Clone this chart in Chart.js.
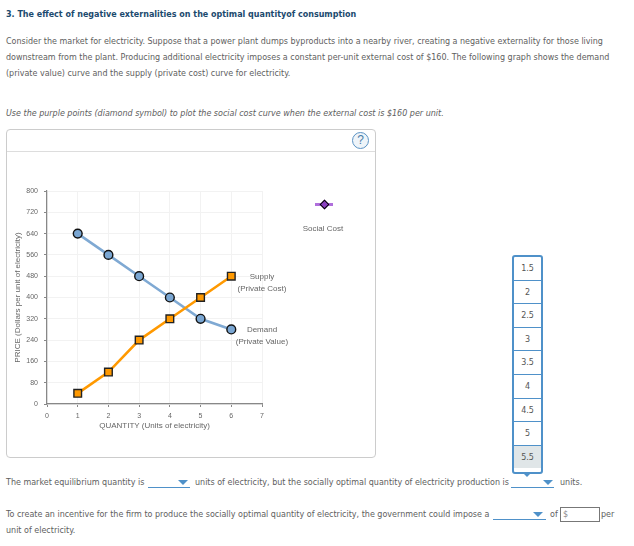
<!DOCTYPE html>
<html>
<head>
<meta charset="utf-8">
<script src="https://cdn.jsdelivr.net/npm/chart.js@4"></script>
<style>
html, body { margin: 0; padding: 0; background: #fff; }
body { width: 634px; height: 546px; position: relative; overflow: hidden; font-family: "DejaVu Sans", sans-serif; font-size: 8px; color: #5e5e5e; }
.t { position: absolute; white-space: nowrap; line-height: 10px; }
.panel { position: absolute; left: 6px; top: 129px; width: 368px; height: 327px; border: 1px solid #ccc; border-radius: 4px; box-sizing: content-box; }
.head { position: absolute; left: 0; right: 0; top: 21px; border-top: 1px solid #ddd; }
#c { position: absolute; left: 0; top: 152px; }
.lab { position: absolute; font-family: "Liberation Sans", sans-serif; font-size: 8px; line-height: 11.5px; text-align: center; color: #666; width: 80px; }
.help { position: absolute; left: 352px; top: 132px; width: 15px; height: 15px; border: 1.3px solid #5b93c4; border-radius: 50%; background: #eef4f9; color: #4a7ca8; font: 12px/15px "Liberation Sans", sans-serif; text-align: center; }
.key { position: absolute; left: 315px; top: 203px; width: 18px; height: 3px; background: #b06fdc; }
.key i { position: absolute; left: 6px; top: -2px; width: 5px; height: 5px; background: #8a3fc0; border: 1.3px solid #000; transform: rotate(45deg); }
.box { position: absolute; left: 512px; top: 255px; width: 27px; height: 215px; border: 2px solid #4f91c9; border-radius: 3px; background: #fff; }
.box div { height: 22.6px; line-height: 24px; border-bottom: 1px solid #4f91c9; text-align: center; font-size: 8px; color: #555; }
.box div:last-child { border-bottom: 0; background: #e0e6e8; }
.tri { position: absolute; width: 0; height: 0; border-left: 5px solid transparent; border-right: 5px solid transparent; border-top: 5px solid #4f91c9; }
.dd { position: absolute; border-bottom: 1px solid #4f91c9; height: 1px; }
.inp { position: absolute; left: 560px; top: 507px; width: 36px; height: 13px; border: 1px solid #777; font-size: 8px; line-height: 13px; color: #888; padding-left: 2px; box-sizing: content-box; }
</style>
</head>
<body>
<div class="t" style="left:6px;top:10px;font-weight:bold;color:#1c4a6e;">3. The effect of negative externalities on the optimal quantityof consumption</div>
<div class="t" style="left:6px;top:37px;">Consider the market for electricity. Suppose that a power plant dumps byproducts into a nearby river, creating a negative externality for those living</div>
<div class="t" style="left:6px;top:53px;">downstream from the plant. Producing additional electricity imposes a constant per-unit external cost of $160. The following graph shows the demand</div>
<div class="t" style="left:6px;top:69px;">(private value) curve and the supply (private cost) curve for electricity.</div>
<div class="t" style="left:6px;top:109px;font-style:italic;">Use the purple points (diamond symbol) to plot the social cost curve when the external cost is $160 per unit.</div>

<div class="panel"><div class="head"></div></div>
<canvas id="c" width="374" height="304" style="width:374px;height:304px;"></canvas>
<div class="help">?</div>
<div class="key"><i></i></div>
<div class="lab" style="left:283px;top:223px;">Social Cost</div>
<div class="lab" style="left:222px;top:271px;">Supply<br>(Private Cost)</div>
<div class="lab" style="left:222px;top:324px;">Demand<br>(Private Value)</div>

<div class="box" id="box"></div>
<div class="tri" style="left:522px;top:472px;"></div>

<div class="t" style="left:6px;top:478px;">The market equilibrium quantity is</div>
<div class="dd" style="left:148px;top:486px;width:42px;"></div>
<div class="tri" style="left:178px;top:480px;"></div>
<div class="t" style="left:195px;top:478px;">units of electricity, but the socially optimal quantity of electricity production is</div>
<div class="dd" style="left:511px;top:486px;width:43px;"></div>
<div class="tri" style="left:543px;top:480px;"></div>
<div class="t" style="left:560px;top:478px;">units.</div>
<div class="t" style="left:6px;top:510px;">To create an incentive for the firm to produce the socially optimal quantity of electricity, the government could impose a</div>
<div class="dd" style="left:493px;top:518px;width:53px;"></div>
<div class="tri" style="left:533px;top:512px;"></div>
<div class="t" style="left:550px;top:510px;">of</div>
<div class="inp">$</div>
<div class="t" style="left:601px;top:510px;">per</div>
<div class="t" style="left:6px;top:526px;">unit of electricity.</div>

<script>
// values
const quantities = [1, 2, 3, 4, 5, 6];
const demandValues = [640, 560, 480, 400, 320, 280];
const supplyValues = [40, 120, 240, 320, 400, 480];
const xTicks = [0, 1, 2, 3, 4, 5, 6, 7];
const yTicks = [0, 80, 160, 240, 320, 400, 480, 560, 640, 720, 800];
const answerChoices = ['1.5', '2', '2.5', '3', '3.5', '4', '4.5', '5', '5.5'];

document.getElementById('box').innerHTML = answerChoices.map(a => '<div>' + a + '</div>').join('');

function toPoints(values) {
    return quantities.map((q, i) => ({ x: q, y: values[i] }));
}

const tickFont = { family: '"Liberation Sans", sans-serif', size: 7 };
const titleFont = { family: '"Liberation Sans", sans-serif', size: 8 };

new Chart(document.getElementById('c').getContext('2d'), {
    type: 'scatter',
    data: {
        datasets: [{
            label: 'Supply (Private Cost)',
            data: toPoints(supplyValues),
            showLine: true,
            borderColor: '#ff9900',
            borderWidth: 2.6,
            pointStyle: 'rect',
            pointRadius: 5.4,
            pointBackgroundColor: '#ff9900',
            pointBorderColor: '#222',
            pointBorderWidth: 1.4
        }, {
            label: 'Demand (Private Value)',
            data: toPoints(demandValues),
            showLine: true,
            borderColor: '#7fa9d3',
            borderWidth: 2.6,
            pointStyle: 'circle',
            pointRadius: 4.4,
            pointBackgroundColor: '#7aa6d2',
            pointBorderColor: '#111',
            pointBorderWidth: 1.4
        }]
    },
    options: {
        responsive: false,
        animation: false,
        layout: { padding: { top: 39, right: 112, left: 0, bottom: 0 } },
        plugins: { legend: { display: false }, tooltip: { enabled: false } },
        scales: {
            x: {
                type: 'linear',
                min: 0,
                max: 7,
                afterBuildTicks: s => { s.ticks = xTicks.map(v => ({ value: v })); },
                afterFit: s => { s.height = 52; },
                grid: { color: '#f2f2f2', tickColor: '#888', tickLength: 3 },
                border: { color: '#888', width: 1.2 },
                ticks: { font: tickFont, color: '#666', padding: 5, maxRotation: 0 },
                title: { display: true, text: 'QUANTITY (Units of electricity)', font: titleFont, color: '#666', padding: { top: 0, bottom: 25 } }
            },
            y: {
                min: 0,
                max: 800,
                afterBuildTicks: s => { s.ticks = yTicks.map(v => ({ value: v })); },
                afterFit: s => { s.width = 47; },
                grid: { color: '#f2f2f2', tickColor: '#888', tickLength: 3 },
                border: { color: '#888', width: 1.2 },
                ticks: { font: tickFont, color: '#666', padding: 6 },
                title: { display: true, text: 'PRICE (Dollars per unit of electricity)', font: titleFont, color: '#666', padding: { top: 13, bottom: 0 } }
            }
        }
    }
});
</script>
</body>
</html>
